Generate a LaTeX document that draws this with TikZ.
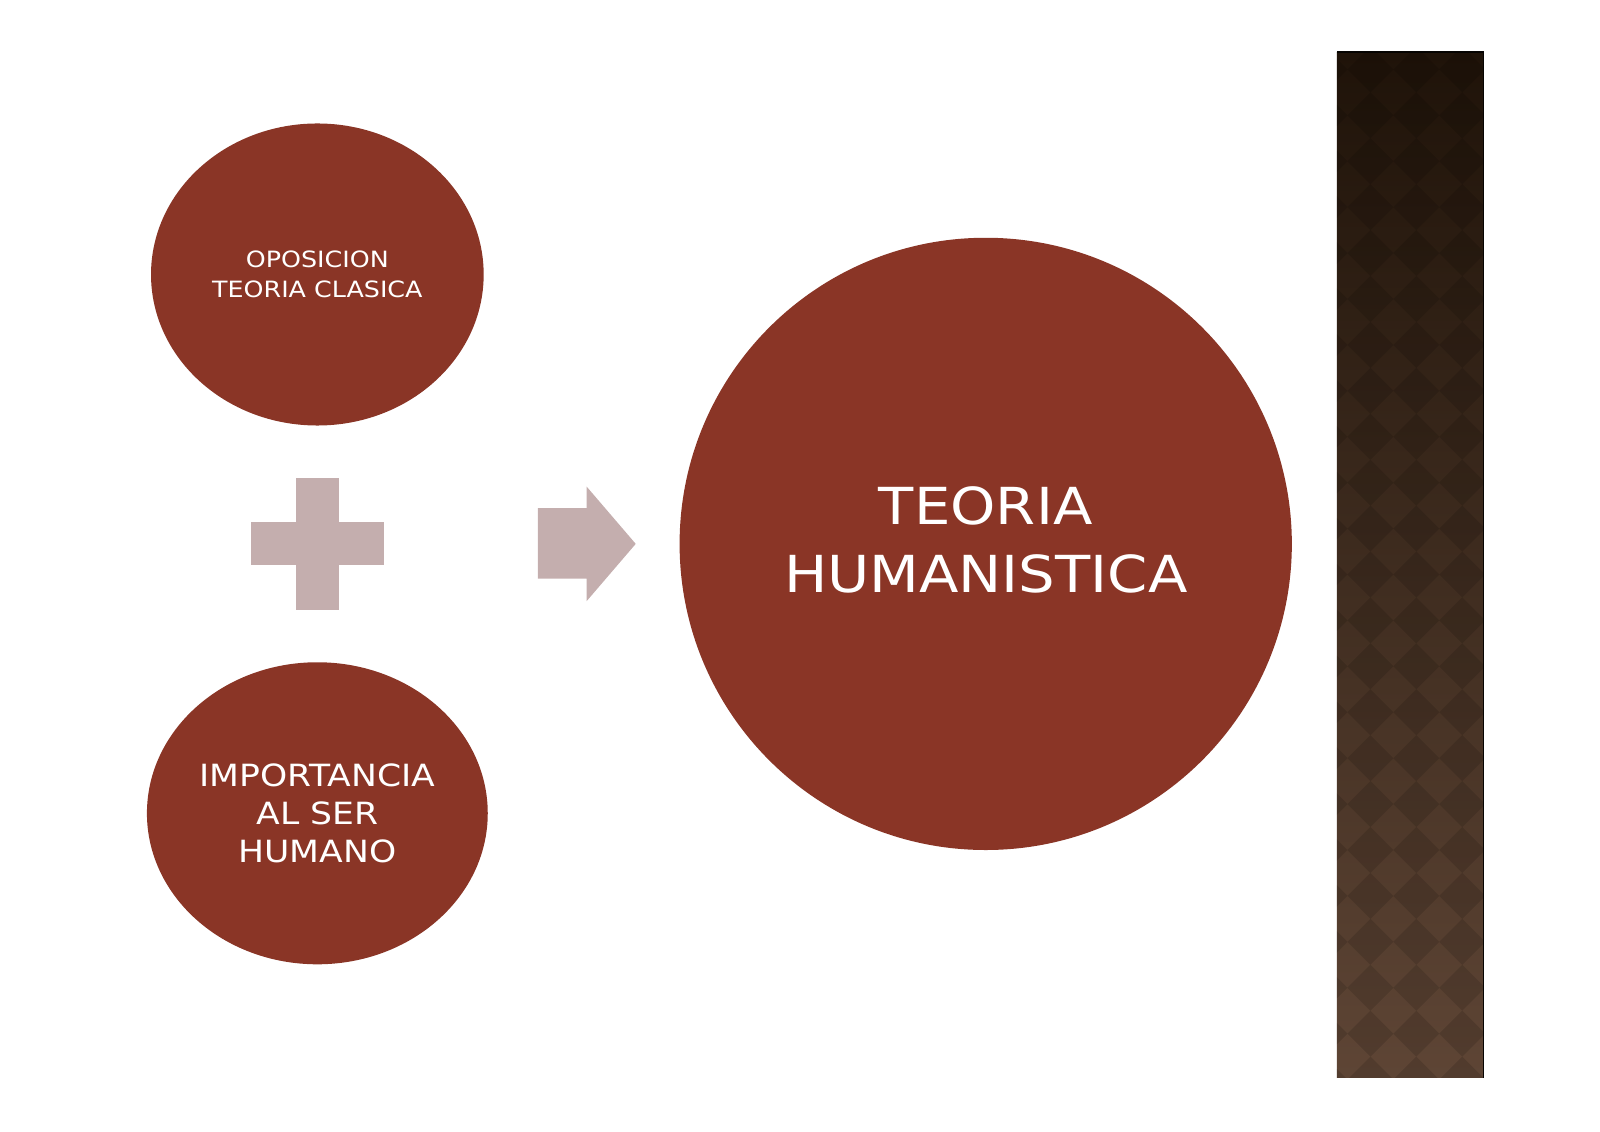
\documentclass[tikz,border=0pt]{standalone}
\usepackage{fontspec}
\setmainfont{DejaVu Sans}[FakeStretch=1.13]
\usetikzlibrary{shapes.geometric}
\definecolor{circ}{HTML}{8A3526}
\definecolor{shapec}{HTML}{C4AEAE}
\definecolor{bartop}{HTML}{1F1309}
\definecolor{barbot}{HTML}{5E4535}
\tikzset{
  bubble/.style={ellipse, fill=circ, inner sep=0pt, text=white, align=center},
  signshape/.style={fill=shapec},
}
\begin{document}
\begin{tikzpicture}[x=0.5pt,y=-0.5pt]
\useasboundingbox (0,0) rectangle (1568,1108.4);
% circles
\node[bubble, minimum width=163pt, minimum height=148pt,
      font=\fontsize{11}{15}\selectfont] (opos) at (311,269)
      {OPOSICION\\TEORIA CLASICA};
\node[bubble, minimum width=167pt, minimum height=148pt,
      font=\fontsize{15}{18.75}\selectfont] (imp) at (311,797)
      {IMPORTANCIA\\AL SER\\HUMANO};
\node[bubble, minimum width=300pt, minimum height=300pt] (teo) at (966,533) {};
\node[text=white, align=center, inner sep=0pt,
      font=\fontsize{25}{33}\selectfont] (teotxt) at ([yshift=2pt]teo.center)
      {TEORIA\\HUMANISTICA};
% plus sign
\fill[signshape] (290,468) rectangle (332,598);
\fill[signshape] (246,512) rectangle (376,554);
% arrow
\fill[signshape] (527,498) -- (575,498) -- (575,477) -- (623,533)
   -- (575,589) -- (575,567) -- (527,567) -- cycle;
% decorative bar
\shade[top color=bartop, bottom color=barbot] (1310,51) rectangle (1454,1056);
\begin{scope}
\clip (1310,51) rectangle (1454,1056);
\foreach \i in {-1,...,3}{
  \foreach \j in {-20,...,3}{
    \fill[black, opacity=0.12] ({1343+45*\i},{923+45*\j})
      +(0,-22.5) -- +(22.5,0) -- +(0,22.5) -- +(-22.5,0) -- cycle;
  }
}
\end{scope}
\draw[black!80!bartop, line width=0.6pt] (1310,51) -- (1454,51) -- (1454,1056);
\end{tikzpicture}
\end{document}
